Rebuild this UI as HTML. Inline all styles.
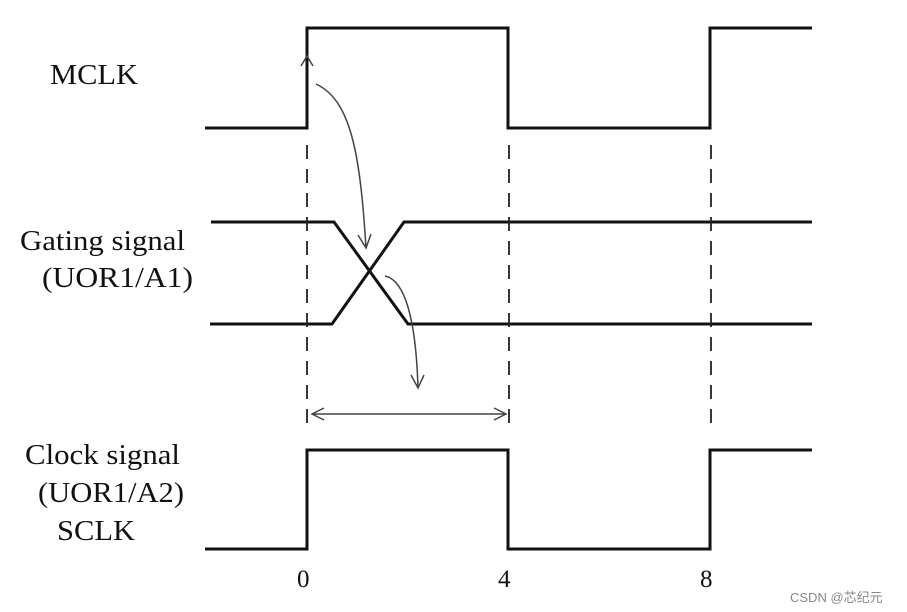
<!DOCTYPE html>
<html><head><style>body{margin:0;background:#fff}svg{display:block}</style></head><body>
<svg width="907" height="612" xmlns="http://www.w3.org/2000/svg" font-family="Liberation Serif, serif" font-size="28">
<g fill="none" stroke="#111" stroke-width="3">
<polyline points="205,128 307,128 307,28 508,28 508,128 710,128 710,28 812,28"/>
<polyline points="211,222 334,222 408,324 812,324"/>
<polyline points="210,324 332,324 404,222 812,222"/>
<polyline points="205,549 307,549 307,450 508,450 508,549 710,549 710,450 812,450"/>
</g>
<g stroke="#222" stroke-width="1.8" stroke-dasharray="14,10" fill="none">
<line x1="307" y1="145" x2="307" y2="432"/>
<line x1="509" y1="145" x2="509" y2="432"/>
<line x1="711" y1="145" x2="711" y2="432"/>
</g>
<g stroke="#444" stroke-width="1.5" fill="none">
<path d="M316,84 C350,100 360,150 366,248"/>
<polyline points="358,235 366,248 371,234"/>
<polyline points="301,66 307,56 313,66"/>
<path d="M385,276 C405,280 416,320 418,388"/>
<polyline points="411,375 418,388 424,375"/>
<line x1="312" y1="414" x2="506" y2="414"/>
<polyline points="324,408 312,414 324,420"/>
<polyline points="494,408 506,414 494,420"/>
</g>
<g fill="#111">
<text x="50" y="84" textLength="88" lengthAdjust="spacingAndGlyphs">MCLK</text>
<text x="20" y="250" textLength="165" lengthAdjust="spacingAndGlyphs">Gating signal</text>
<text x="42" y="287" textLength="151" lengthAdjust="spacingAndGlyphs">(UOR1/A1)</text>
<text x="25" y="464" textLength="155" lengthAdjust="spacingAndGlyphs">Clock signal</text>
<text x="38" y="502" textLength="146" lengthAdjust="spacingAndGlyphs">(UOR1/A2)</text>
<text x="57" y="540" textLength="78" lengthAdjust="spacingAndGlyphs">SCLK</text>
<text x="297" y="587" font-size="25">0</text>
<text x="498" y="587" font-size="25">4</text>
<text x="700" y="587" font-size="25">8</text>
</g>
<text x="790" y="602" font-family="Liberation Sans, Noto Sans CJK SC, sans-serif" font-size="13" fill="#888">CSDN @芯纪元</text>
</svg>
</body></html>
